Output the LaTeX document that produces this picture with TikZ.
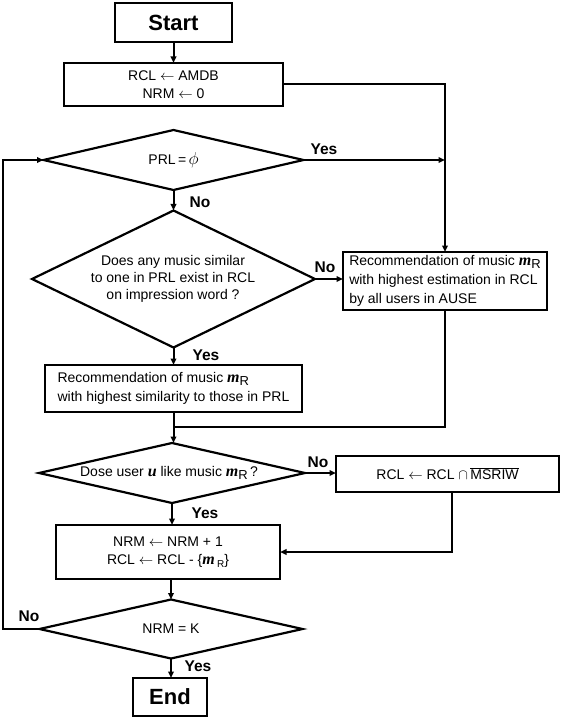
\documentclass[tikz,border=0pt]{standalone}
\usepackage{fontspec}
\setmainfont{Liberation Sans}
\newfontfamily\serifm{Liberation Serif}
\usetikzlibrary{shapes.geometric,arrows.meta}
\newcommand\mvar[1]{{\serifm\fontsize{16}{16}\selectfont\bfseries\itshape #1}}
\newcommand\subR[1][13]{\raisebox{-0.4ex}{\fontsize{#1}{#1}\selectfont R}}
\begin{document}
\begin{tikzpicture}[x=1pt,y=-1pt,
  box/.style={draw, line width=2.2pt, rectangle, inner sep=0pt, outer sep=0pt},
  dia/.style={draw, line width=2.2pt, diamond, inner sep=0pt, outer sep=0pt},
  txt/.style={font=\fontsize{14}{18}\selectfont, align=center, inner sep=0pt},
  ltxt/.style={font=\fontsize{14}{19}\selectfont, align=left},
  lab/.style={font=\fontsize{15.5}{15.5}\selectfont\bfseries, inner sep=0pt},
  big/.style={font=\fontsize{22}{22}\selectfont\bfseries},
  conn/.style={line width=2pt},
  arr/.style={conn, -{Triangle[length=6.5pt,width=5.5pt]}}
]
\useasboundingbox (0,0) rectangle (562,719);

% boxes
\node[box, big, minimum width=117pt, minimum height=39pt] (start) at (173.5,22.5) {Start};
\node[box, txt, minimum width=219pt, minimum height=43pt] (init) at (173.5,84.5)
  {RCL $\leftarrow$ AMDB\\NRM $\leftarrow$ 0};
\node[dia, minimum width=260pt, minimum height=60pt] (d1) at (173.5,160) {};
\node[txt] (d1t) at (d1) {PRL\,=\,{\fontsize{18}{18}\selectfont$\phi$}};
\node[dia, minimum width=283pt, minimum height=137pt] (d2) at (173.5,279) {};
\node[txt, font=\fontsize{14}{17}\selectfont] (d2t) at (173,279)
  {Does any music similar\\to one in PRL exist in RCL\\on impression word ?};
\node[box, ltxt, minimum width=204pt, minimum height=58pt] (est) at (445,281)
  {Recommendation of music \mvar{m}\subR\\with highest estimation in RCL\\by all users in AUSE};
\node[box, ltxt, minimum width=257pt, minimum height=47pt] (sim) at (173.5,388.5)
  {Recommendation of music \mvar{m}\subR\\with highest similarity to those in PRL};
\node[dia, minimum width=266pt, minimum height=60pt] (d3) at (172,473) {};
\node[txt] (d3t) at (169,473) {Dose user \mvar{u} like music \mvar{m}\subR\,?};
\node[box, txt, minimum width=223pt, minimum height=36pt] (upd) at (447.5,474)
  {RCL $\leftarrow$ RCL $\cap$\,$\overline{\hbox{MSRIW}}$};
\node[box, txt, minimum width=224pt, minimum height=54pt] (inc) at (168,552)
  {NRM $\leftarrow$ NRM + 1\\RCL $\leftarrow$ RCL - \{\mvar{m}\,\subR[10]\}};
\node[dia, minimum width=263pt, minimum height=59pt] (d4) at (171,629) {};
\node[txt] (d4t) at (d4) {NRM = K};
\node[box, big, minimum width=74pt, minimum height=38pt] (end) at (170,697) {End};

% connectors
\coordinate (j) at (173.5,427);
\coordinate (lp) at (3,629);
\draw[arr] (start.south) -- (init.north);
\draw[arr] (init.east) -| (est.north);
\draw[arr] (d1.east) -- (d1.east -| est.north);
\draw[arr] (d1.south) -- (d2.north);
\draw[arr] (d2.east) -- (d2.east -| est.west);
\draw[arr] (d2.south) -- (sim.north);
\draw[conn] (est.south) |- (j);
\draw[arr] (sim.south) -- (sim.south |- d3.north);
\draw[arr] (d3.east) -- (d3.east -| upd.west);
\draw[arr] (d3.south) -- (d3.south |- inc.north);
\draw[arr] ([xshift=4.5pt]upd.south) |- (inc.east);
\draw[arr] (d4.north |- inc.south) -- (d4.north);
\draw[arr] (d4.south) -- (d4.south |- end.north);
\draw[arr] (d4.west) -- (lp) |- (d1.west);

% labels
\node[lab] (l1) at (324,149) {Yes};
\node[lab] (l2) at (200,202) {No};
\node[lab] (l3) at (325,267) {No};
\node[lab] (l4) at (206,355) {Yes};
\node[lab] (l5) at (318,462) {No};
\node[lab] (l6) at (205,513) {Yes};
\node[lab] (l7) at (29,616) {No};
\node[lab] (l8) at (198,666) {Yes};
\end{tikzpicture}
\end{document}
